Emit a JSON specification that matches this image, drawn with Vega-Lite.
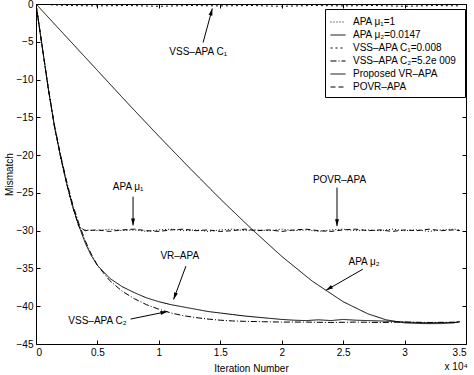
{
  "$schema": "https://vega.github.io/schema/vega-lite/v6.json",
  "autosize": "none",
  "width": 430,
  "height": 340,
  "padding": {"left": 36, "top": 4, "right": 8, "bottom": 31},
  "background": "white",
  "config": {
    "font": "Liberation Sans",
    "view": {"stroke": "black", "strokeWidth": 1},
    "axis": {
      "grid": false,
      "domain": false,
      "tickColor": "black",
      "tickSize": -4,
      "labelColor": "black",
      "labelFontSize": 10,
      "labelFont": "Liberation Sans",
      "titleFont": "Liberation Sans",
      "titleFontSize": 10,
      "titleFontWeight": "normal",
      "titleColor": "black"
    }
  },
  "resolve": {"axis": {"x": "independent", "y": "independent"}},
  "layer": [
    {
      "data": {"values": [
        {"s": "APA μ₁=1", "x": 0, "y": 0}, {"s": "APA μ₁=1", "x": 500, "y": -5.6}, {"s": "APA μ₁=1", "x": 1000, "y": -11.2}, {"s": "APA μ₁=1", "x": 1500, "y": -16.2}, {"s": "APA μ₁=1", "x": 2000, "y": -20.2}, {"s": "APA μ₁=1", "x": 2500, "y": -23.8}, {"s": "APA μ₁=1", "x": 3000, "y": -26.9}, {"s": "APA μ₁=1", "x": 3500, "y": -29.6},
        {"s": "APA μ₁=1", "x": 4000, "y": -29.9}, {"s": "APA μ₁=1", "x": 5000, "y": -30.0}, {"s": "APA μ₁=1", "x": 6000, "y": -29.8}, {"s": "APA μ₁=1", "x": 7000, "y": -30.0}, {"s": "APA μ₁=1", "x": 8000, "y": -29.9}, {"s": "APA μ₁=1", "x": 9000, "y": -30.1}, {"s": "APA μ₁=1", "x": 10000, "y": -29.9}, {"s": "APA μ₁=1", "x": 11000, "y": -29.8}, {"s": "APA μ₁=1", "x": 12000, "y": -30.0}, {"s": "APA μ₁=1", "x": 13000, "y": -29.9}, {"s": "APA μ₁=1", "x": 14000, "y": -30.1}, {"s": "APA μ₁=1", "x": 15000, "y": -29.9}, {"s": "APA μ₁=1", "x": 16000, "y": -29.8}, {"s": "APA μ₁=1", "x": 17000, "y": -30.0}, {"s": "APA μ₁=1", "x": 18000, "y": -29.9}, {"s": "APA μ₁=1", "x": 19000, "y": -30.0}, {"s": "APA μ₁=1", "x": 20000, "y": -29.8}, {"s": "APA μ₁=1", "x": 21000, "y": -30.0}, {"s": "APA μ₁=1", "x": 22000, "y": -29.9}, {"s": "APA μ₁=1", "x": 23000, "y": -30.1}, {"s": "APA μ₁=1", "x": 24000, "y": -29.9}, {"s": "APA μ₁=1", "x": 25000, "y": -29.8}, {"s": "APA μ₁=1", "x": 26000, "y": -30.0}, {"s": "APA μ₁=1", "x": 27000, "y": -29.9}, {"s": "APA μ₁=1", "x": 28000, "y": -30.0}, {"s": "APA μ₁=1", "x": 29000, "y": -29.8}, {"s": "APA μ₁=1", "x": 30000, "y": -30.0}, {"s": "APA μ₁=1", "x": 31000, "y": -29.9}, {"s": "APA μ₁=1", "x": 32000, "y": -30.1}, {"s": "APA μ₁=1", "x": 33000, "y": -29.9}, {"s": "APA μ₁=1", "x": 34000, "y": -29.8}, {"s": "APA μ₁=1", "x": 34500, "y": -29.9},

        {"s": "APA μ₂=0.0147", "x": 0, "y": 0}, {"s": "APA μ₂=0.0147", "x": 2500, "y": -4.4}, {"s": "APA μ₂=0.0147", "x": 5000, "y": -8.8}, {"s": "APA μ₂=0.0147", "x": 7500, "y": -13.2}, {"s": "APA μ₂=0.0147", "x": 10000, "y": -17.5}, {"s": "APA μ₂=0.0147", "x": 12500, "y": -21.7}, {"s": "APA μ₂=0.0147", "x": 15000, "y": -25.8}, {"s": "APA μ₂=0.0147", "x": 17500, "y": -29.7}, {"s": "APA μ₂=0.0147", "x": 20000, "y": -33.4}, {"s": "APA μ₂=0.0147", "x": 22500, "y": -36.7}, {"s": "APA μ₂=0.0147", "x": 25000, "y": -39.4}, {"s": "APA μ₂=0.0147", "x": 27000, "y": -41.0}, {"s": "APA μ₂=0.0147", "x": 28500, "y": -41.8}, {"s": "APA μ₂=0.0147", "x": 30000, "y": -42.2}, {"s": "APA μ₂=0.0147", "x": 31500, "y": -42.3}, {"s": "APA μ₂=0.0147", "x": 33000, "y": -42.3}, {"s": "APA μ₂=0.0147", "x": 34500, "y": -42.1},

        {"s": "VSS–APA C₁=0.008", "x": 0, "y": 0}, {"s": "VSS–APA C₁=0.008", "x": 2500, "y": -0.2}, {"s": "VSS–APA C₁=0.008", "x": 5000, "y": -0.25}, {"s": "VSS–APA C₁=0.008", "x": 7500, "y": -0.2}, {"s": "VSS–APA C₁=0.008", "x": 10000, "y": -0.3}, {"s": "VSS–APA C₁=0.008", "x": 12500, "y": -0.2}, {"s": "VSS–APA C₁=0.008", "x": 15000, "y": -0.25}, {"s": "VSS–APA C₁=0.008", "x": 17500, "y": -0.2}, {"s": "VSS–APA C₁=0.008", "x": 20000, "y": -0.3}, {"s": "VSS–APA C₁=0.008", "x": 22500, "y": -0.2}, {"s": "VSS–APA C₁=0.008", "x": 25000, "y": -0.25}, {"s": "VSS–APA C₁=0.008", "x": 27500, "y": -0.2}, {"s": "VSS–APA C₁=0.008", "x": 30000, "y": -0.3}, {"s": "VSS–APA C₁=0.008", "x": 32500, "y": -0.2}, {"s": "VSS–APA C₁=0.008", "x": 34500, "y": -0.25},

        {"s": "VSS–APA C₂=5.2e  009", "x": 0, "y": 0}, {"s": "VSS–APA C₂=5.2e  009", "x": 500, "y": -5.6}, {"s": "VSS–APA C₂=5.2e  009", "x": 1000, "y": -11.1}, {"s": "VSS–APA C₂=5.2e  009", "x": 1500, "y": -16.0}, {"s": "VSS–APA C₂=5.2e  009", "x": 2000, "y": -20.0}, {"s": "VSS–APA C₂=5.2e  009", "x": 2500, "y": -23.5}, {"s": "VSS–APA C₂=5.2e  009", "x": 3000, "y": -26.6}, {"s": "VSS–APA C₂=5.2e  009", "x": 3500, "y": -29.1}, {"s": "VSS–APA C₂=5.2e  009", "x": 4000, "y": -31.3}, {"s": "VSS–APA C₂=5.2e  009", "x": 4500, "y": -33.1}, {"s": "VSS–APA C₂=5.2e  009", "x": 5000, "y": -34.6}, {"s": "VSS–APA C₂=5.2e  009", "x": 6000, "y": -36.6}, {"s": "VSS–APA C₂=5.2e  009", "x": 7000, "y": -38.0}, {"s": "VSS–APA C₂=5.2e  009", "x": 8000, "y": -39.0}, {"s": "VSS–APA C₂=5.2e  009", "x": 9000, "y": -39.8}, {"s": "VSS–APA C₂=5.2e  009", "x": 10000, "y": -40.4}, {"s": "VSS–APA C₂=5.2e  009", "x": 11000, "y": -40.9}, {"s": "VSS–APA C₂=5.2e  009", "x": 12000, "y": -41.25}, {"s": "VSS–APA C₂=5.2e  009", "x": 13000, "y": -41.5}, {"s": "VSS–APA C₂=5.2e  009", "x": 14000, "y": -41.7}, {"s": "VSS–APA C₂=5.2e  009", "x": 15000, "y": -41.85}, {"s": "VSS–APA C₂=5.2e  009", "x": 16000, "y": -41.95}, {"s": "VSS–APA C₂=5.2e  009", "x": 17000, "y": -42.0}, {"s": "VSS–APA C₂=5.2e  009", "x": 18500, "y": -42.05}, {"s": "VSS–APA C₂=5.2e  009", "x": 20000, "y": -42.1}, {"s": "VSS–APA C₂=5.2e  009", "x": 22000, "y": -42.1}, {"s": "VSS–APA C₂=5.2e  009", "x": 24000, "y": -42.15}, {"s": "VSS–APA C₂=5.2e  009", "x": 26000, "y": -42.1}, {"s": "VSS–APA C₂=5.2e  009", "x": 28000, "y": -42.15}, {"s": "VSS–APA C₂=5.2e  009", "x": 30000, "y": -42.1}, {"s": "VSS–APA C₂=5.2e  009", "x": 32000, "y": -42.15}, {"s": "VSS–APA C₂=5.2e  009", "x": 34500, "y": -42.1},

        {"s": "Proposed VR–APA", "x": 0, "y": 0}, {"s": "Proposed VR–APA", "x": 500, "y": -5.6}, {"s": "Proposed VR–APA", "x": 1000, "y": -11.2}, {"s": "Proposed VR–APA", "x": 1500, "y": -16.2}, {"s": "Proposed VR–APA", "x": 2000, "y": -20.2}, {"s": "Proposed VR–APA", "x": 2500, "y": -23.8}, {"s": "Proposed VR–APA", "x": 3000, "y": -26.9}, {"s": "Proposed VR–APA", "x": 3500, "y": -29.4}, {"s": "Proposed VR–APA", "x": 4000, "y": -31.6}, {"s": "Proposed VR–APA", "x": 4500, "y": -33.3}, {"s": "Proposed VR–APA", "x": 5000, "y": -34.6}, {"s": "Proposed VR–APA", "x": 6000, "y": -36.3}, {"s": "Proposed VR–APA", "x": 7000, "y": -37.4}, {"s": "Proposed VR–APA", "x": 8000, "y": -38.2}, {"s": "Proposed VR–APA", "x": 9000, "y": -38.9}, {"s": "Proposed VR–APA", "x": 10000, "y": -39.4}, {"s": "Proposed VR–APA", "x": 11000, "y": -39.8}, {"s": "Proposed VR–APA", "x": 12000, "y": -40.1}, {"s": "Proposed VR–APA", "x": 13000, "y": -40.4}, {"s": "Proposed VR–APA", "x": 14000, "y": -40.7}, {"s": "Proposed VR–APA", "x": 15000, "y": -40.9}, {"s": "Proposed VR–APA", "x": 16000, "y": -41.1}, {"s": "Proposed VR–APA", "x": 17000, "y": -41.3}, {"s": "Proposed VR–APA", "x": 18000, "y": -41.45}, {"s": "Proposed VR–APA", "x": 19000, "y": -41.6}, {"s": "Proposed VR–APA", "x": 20000, "y": -41.75}, {"s": "Proposed VR–APA", "x": 21000, "y": -41.85}, {"s": "Proposed VR–APA", "x": 22000, "y": -41.9}, {"s": "Proposed VR–APA", "x": 23000, "y": -41.8}, {"s": "Proposed VR–APA", "x": 24000, "y": -41.9}, {"s": "Proposed VR–APA", "x": 25000, "y": -41.75}, {"s": "Proposed VR–APA", "x": 26000, "y": -41.85}, {"s": "Proposed VR–APA", "x": 27000, "y": -41.9}, {"s": "Proposed VR–APA", "x": 28000, "y": -41.95}, {"s": "Proposed VR–APA", "x": 29000, "y": -42.0}, {"s": "Proposed VR–APA", "x": 30000, "y": -42.1}, {"s": "Proposed VR–APA", "x": 31000, "y": -42.15}, {"s": "Proposed VR–APA", "x": 32000, "y": -42.2}, {"s": "Proposed VR–APA", "x": 33000, "y": -42.15}, {"s": "Proposed VR–APA", "x": 34000, "y": -42.2}, {"s": "Proposed VR–APA", "x": 34500, "y": -42.0},

        {"s": "POVR–APA", "x": 0, "y": 0}, {"s": "POVR–APA", "x": 500, "y": -5.6}, {"s": "POVR–APA", "x": 1000, "y": -11.2}, {"s": "POVR–APA", "x": 1500, "y": -16.2}, {"s": "POVR–APA", "x": 2000, "y": -20.2}, {"s": "POVR–APA", "x": 2500, "y": -23.8}, {"s": "POVR–APA", "x": 3000, "y": -26.9}, {"s": "POVR–APA", "x": 3500, "y": -29.5},
        {"s": "POVR–APA", "x": 4000, "y": -30.0}, {"s": "POVR–APA", "x": 5000, "y": -29.9}, {"s": "POVR–APA", "x": 6000, "y": -30.1}, {"s": "POVR–APA", "x": 7000, "y": -29.9}, {"s": "POVR–APA", "x": 8000, "y": -29.8}, {"s": "POVR–APA", "x": 9000, "y": -30.0}, {"s": "POVR–APA", "x": 10000, "y": -30.1}, {"s": "POVR–APA", "x": 11000, "y": -29.9}, {"s": "POVR–APA", "x": 12000, "y": -29.8}, {"s": "POVR–APA", "x": 13000, "y": -30.0}, {"s": "POVR–APA", "x": 14000, "y": -29.9}, {"s": "POVR–APA", "x": 15000, "y": -30.1}, {"s": "POVR–APA", "x": 16000, "y": -30.0}, {"s": "POVR–APA", "x": 17000, "y": -29.8}, {"s": "POVR–APA", "x": 18000, "y": -30.0}, {"s": "POVR–APA", "x": 19000, "y": -29.9}, {"s": "POVR–APA", "x": 20000, "y": -30.1}, {"s": "POVR–APA", "x": 21000, "y": -29.9}, {"s": "POVR–APA", "x": 22000, "y": -29.8}, {"s": "POVR–APA", "x": 23000, "y": -30.0}, {"s": "POVR–APA", "x": 24000, "y": -30.1}, {"s": "POVR–APA", "x": 25000, "y": -29.9}, {"s": "POVR–APA", "x": 26000, "y": -29.8}, {"s": "POVR–APA", "x": 27000, "y": -30.0}, {"s": "POVR–APA", "x": 28000, "y": -29.9}, {"s": "POVR–APA", "x": 29000, "y": -30.1}, {"s": "POVR–APA", "x": 30000, "y": -29.9}, {"s": "POVR–APA", "x": 31000, "y": -30.0}, {"s": "POVR–APA", "x": 32000, "y": -29.8}, {"s": "POVR–APA", "x": 33000, "y": -30.0}, {"s": "POVR–APA", "x": 34000, "y": -29.9}, {"s": "POVR–APA", "x": 34500, "y": -30.0}
      ]},
      "mark": {"type": "line", "color": "black", "strokeWidth": 1, "clip": true},
      "encoding": {
        "x": {"field": "x", "type": "quantitative",
          "scale": {"domain": [0, 35000], "nice": false},
          "axis": {"orient": "bottom", "values": [0, 5000, 10000, 15000, 20000, 25000, 30000, 35000], "labelExpr": "datum.value / 10000", "labelPadding": 7, "title": "Iteration Number", "titlePadding": 6}},
        "y": {"field": "y", "type": "quantitative",
          "scale": {"domain": [-45, 0], "nice": false},
          "axis": {"orient": "left", "values": [0, -5, -10, -15, -20, -25, -30, -35, -40, -45], "labelPadding": 7, "title": "Mismatch", "titleX": -22, "titleBaseline": "bottom"}},
        "strokeDash": {"field": "s", "type": "nominal",
          "scale": {
            "domain": ["APA μ₁=1", "APA μ₂=0.0147", "VSS–APA C₁=0.008", "VSS–APA C₂=5.2e  009", "Proposed VR–APA", "POVR–APA"],
            "range": [[1, 2], [1, 0], [2, 3], [6, 2, 1, 2], [1, 0], [5, 3]]
          },
          "legend": {
            "title": null, "orient": "none", "legendX": 289, "legendY": 5,
            "strokeColor": "black", "fillColor": "white", "padding": 5,
            "symbolType": "stroke", "symbolStrokeColor": "black", "symbolStrokeWidth": 1, "symbolSize": 225,
            "labelFont": "Liberation Sans", "labelFontSize": 10, "labelColor": "black", "labelOffset": 7,
            "rowPadding": -3, "labelLimit": 200
          }
        }
      }
    },
    {
      "data": {"values": [{"x": 0, "y": 0}]},
      "mark": {"type": "point", "opacity": 0},
      "encoding": {
        "x": {"field": "x", "type": "quantitative", "axis": {"orient": "top", "values": [0, 5000, 10000, 15000, 20000, 25000, 30000, 35000], "labels": false, "title": null}},
        "y": {"field": "y", "type": "quantitative", "axis": {"orient": "right", "values": [0, -5, -10, -15, -20, -25, -30, -35, -40, -45], "labels": false, "title": null}}
      }
    },
    {
      "data": {"values": [
        {"t": "VSS–APA C₁", "x": 13200, "y": -6.3},
        {"t": "APA μ₁", "x": 7500, "y": -24.2},
        {"t": "POVR–APA", "x": 24700, "y": -23.3},
        {"t": "APA μ₂", "x": 26700, "y": -34.2},
        {"t": "VR–APA", "x": 11700, "y": -33.4},
        {"t": "VSS–APA C₂", "x": 5000, "y": -41.9},
        {"t": "x 10⁴", "x": 34200, "y": -48.1}
      ]},
      "mark": {"type": "text", "fontSize": 10, "font": "Liberation Sans", "color": "black", "align": "center", "baseline": "middle"},
      "encoding": {
        "x": {"field": "x", "type": "quantitative", "axis": null},
        "y": {"field": "y", "type": "quantitative", "axis": null},
        "text": {"field": "t"}
      }
    },
    {
      "data": {"values": [
        {"x": 13600, "y": -5.1, "x2": 14350, "y2": -0.6},
        {"x": 7900, "y": -25.5, "x2": 7900, "y2": -29.3},
        {"x": 24500, "y": -24.3, "x2": 24500, "y2": -29.4},
        {"x": 26600, "y": -35.1, "x2": 23600, "y2": -37.9},
        {"x": 12200, "y": -34.7, "x2": 11200, "y2": -39.1},
        {"x": 7700, "y": -41.7, "x2": 10700, "y2": -40.7}
      ]},
      "mark": {"type": "rule", "color": "black", "strokeWidth": 1},
      "encoding": {
        "x": {"field": "x", "type": "quantitative", "axis": null},
        "y": {"field": "y", "type": "quantitative", "axis": null},
        "x2": {"field": "x2"},
        "y2": {"field": "y2"}
      }
    },
    {"data": {"values": [{"x": 14350, "y": -0.6}]}, "mark": {"type": "point", "shape": "M0,0L-0.4,1.4L0.4,1.4Z", "filled": true, "color": "black", "opacity": 1, "size": 100, "angle": 15}, "encoding": {"x": {"field": "x", "type": "quantitative", "axis": null}, "y": {"field": "y", "type": "quantitative", "axis": null}}},
    {"data": {"values": [{"x": 7900, "y": -29.3}, {"x": 24500, "y": -29.4}]}, "mark": {"type": "point", "shape": "M0,0L-0.4,1.4L0.4,1.4Z", "filled": true, "color": "black", "opacity": 1, "size": 100, "angle": 180}, "encoding": {"x": {"field": "x", "type": "quantitative", "axis": null}, "y": {"field": "y", "type": "quantitative", "axis": null}}},
    {"data": {"values": [{"x": 23600, "y": -37.9}]}, "mark": {"type": "point", "shape": "M0,0L-0.4,1.4L0.4,1.4Z", "filled": true, "color": "black", "opacity": 1, "size": 100, "angle": 240}, "encoding": {"x": {"field": "x", "type": "quantitative", "axis": null}, "y": {"field": "y", "type": "quantitative", "axis": null}}},
    {"data": {"values": [{"x": 11200, "y": -39.1}]}, "mark": {"type": "point", "shape": "M0,0L-0.4,1.4L0.4,1.4Z", "filled": true, "color": "black", "opacity": 1, "size": 100, "angle": 200}, "encoding": {"x": {"field": "x", "type": "quantitative", "axis": null}, "y": {"field": "y", "type": "quantitative", "axis": null}}},
    {"data": {"values": [{"x": 10700, "y": -40.7}]}, "mark": {"type": "point", "shape": "M0,0L-0.4,1.4L0.4,1.4Z", "filled": true, "color": "black", "opacity": 1, "size": 100, "angle": 78}, "encoding": {"x": {"field": "x", "type": "quantitative", "axis": null}, "y": {"field": "y", "type": "quantitative", "axis": null}}}
  ]
}
